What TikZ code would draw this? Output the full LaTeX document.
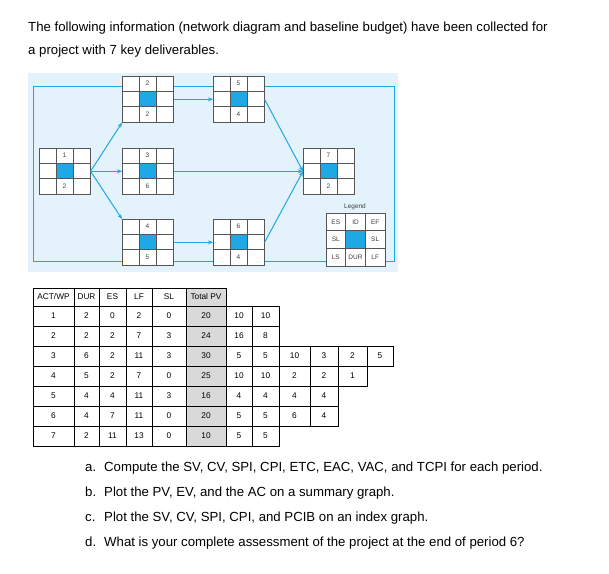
\documentclass[tikz,border=0pt]{standalone}
\usepackage{fontspec}
\setmainfont{Liberation Sans}
\usetikzlibrary{arrows.meta}
\definecolor{netblue}{HTML}{1FA8E6}
\definecolor{bgblue}{HTML}{E3F2FB}
\definecolor{cellline}{HTML}{555555}
\tikzset{
 arr/.style={draw=netblue,line width=1pt,-{Stealth[length=5pt,width=4pt]}},
 txt/.style={anchor=base west,font=\fontsize{13.2}{15}\selectfont,inner sep=0},
 tc/.style={font=\fontsize{8.3}{10}\selectfont,inner sep=0},
 nc/.style={font=\fontsize{6.5}{7.5}\selectfont,text=black!75,inner sep=0},
}
\newcommand\nnode[5]{%
 \node[draw=cellline,fill=white,minimum width=51pt,minimum height=46pt,inner sep=0,anchor=north west,line width=0.6pt] (#1) at (#2,#3) {};
 \fill[netblue] (#2+17,#3+15.33) rectangle (#2+34,#3+30.67);
 \draw[cellline,line width=0.5pt] (#2+17,#3)--(#2+17,#3+46) (#2+34,#3)--(#2+34,#3+46)
   (#2,#3+15.33)--(#2+51,#3+15.33) (#2,#3+30.67)--(#2+51,#3+30.67);
 \node[nc] at (#2+25.5,#3+7.7) {#4};
 \node[nc] at (#2+25.5,#3+38.3) {#5};
}
\newcommand\trow[2]{%
 \foreach \a/\b/\t in {#2}{
  \draw[line width=0.5pt] (\a,#1) rectangle (\b,#1+20);
  \node[tc] at ({(\a+\b)/2},#1+10) {\t};
 }}
\begin{document}
\begin{tikzpicture}[x=1pt,y=-1pt]
\useasboundingbox (0,0) rectangle (609,573);
\fill[white] (0,0) rectangle (609,573);
\node[txt] (t1) at (28,31) {The following information (network diagram and baseline budget) have been collected for};
\node[txt] (t2) at (28,54) {a project with 7 key deliverables.};
% network
\fill[bgblue] (28,73) rectangle (398,272);
\draw[netblue,line width=1pt] (33,86) rectangle (394,261);
\nnode{n2}{122}{76}{2}{2}
\nnode{n5}{213}{76}{5}{4}
\nnode{n1}{39}{148}{1}{2}
\nnode{n3}{122}{148}{3}{6}
\nnode{n7}{303}{148}{7}{2}
\nnode{n4}{122}{219}{4}{5}
\nnode{n6}{213}{219}{6}{4}
\draw[arr] (n1.east) -- (n2.south west);
\draw[arr] (n1.east) -- (n3.west);
\draw[arr] (n1.east) -- (n4.north west);
\draw[arr] (n2.east) -- (n5.west);
\draw[arr] (n4.east) -- (n6.west);
\draw[arr] (n5.east) -- (n7.west);
\draw[arr] (n3.east) -- (n7.west);
\draw[arr] (n6.east) -- (n7.west);
% legend
\node[nc] (lg) at (355,207) {Legend};
\node[draw=cellline,fill=white,minimum width=59pt,minimum height=53pt,inner sep=0,anchor=north west,line width=0.6pt] (leg) at (326,213) {};
\fill[netblue] (345.67,230.67) rectangle (365.33,248.33);
\draw[cellline,line width=0.5pt] (345.67,213)--(345.67,266) (365.33,213)--(365.33,266) (326,230.67)--(385,230.67) (326,248.33)--(385,248.33);
\node[nc] at (335.8,221.8) {ES};\node[nc] at (355.5,221.8) {ID};\node[nc] at (375.2,221.8) {EF};
\node[nc] at (335.8,239.5) {SL};\node[nc] at (375.2,239.5) {SL};
\node[nc] at (335.8,257.2) {LS};\node[nc] at (355.5,257.2) {DUR};\node[nc] at (375.2,257.2) {LF};
% table
\fill[black!15] (186,288) rectangle (226,446);
\foreach \a/\b/\t in {33/74/{ACT/WP},74/99/DUR,99/126/ES,126/152/LF,152/186/SL,186/226/Total PV}{
 \draw[line width=0.5pt] (\a,288) rectangle (\b,306);
 \node[tc] at ({(\a+\b)/2},297) {\t};}
\trow{306}{33/74/1,74/99/2,99/126/0,126/152/2,152/186/0,186/226/20,226/252/10,252/279/10}
\trow{326}{33/74/2,74/99/2,99/126/2,126/152/7,152/186/3,186/226/24,226/252/16,252/279/8}
\trow{346}{33/74/3,74/99/6,99/126/2,126/152/11,152/186/3,186/226/30,226/252/5,252/279/5,279/310/10,310/338/3,338/367/2,367/393/5}
\trow{366}{33/74/4,74/99/5,99/126/2,126/152/7,152/186/0,186/226/25,226/252/10,252/279/10,279/310/2,310/338/2,338/367/1}
\trow{386}{33/74/5,74/99/4,99/126/4,126/152/11,152/186/3,186/226/16,226/252/4,252/279/4,279/310/4,310/338/4}
\trow{406}{33/74/6,74/99/4,99/126/7,126/152/11,152/186/0,186/226/20,226/252/5,252/279/5,279/310/6,310/338/4}
\trow{426}{33/74/7,74/99/2,99/126/11,126/152/13,152/186/0,186/226/10,226/252/5,252/279/5}
% questions
\foreach \y/\l/\t in {471/a./{Compute the SV, CV, SPI, CPI, ETC, EAC, VAC, and TCPI for each period.},
 496/b./{Plot the PV, EV, and the AC on a summary graph.},
 521/c./{Plot the SV, CV, SPI, CPI, and PCIB on an index graph.},
 546/d./{What is your complete assessment of the project at the end of period 6?}}{
 \node[txt] at (85,\y) {\l};
 \node[txt] at (104,\y) {\t};}
\end{tikzpicture}
\end{document}
